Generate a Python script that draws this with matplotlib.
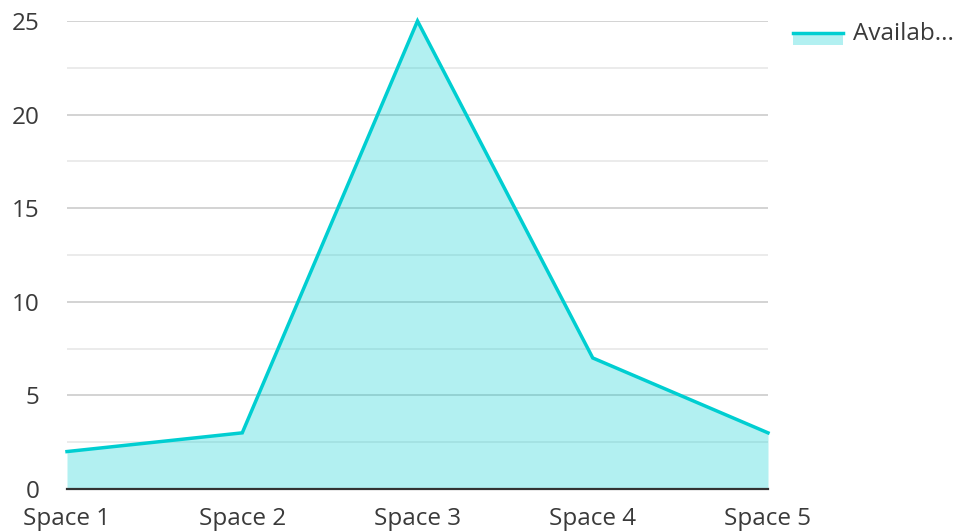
import matplotlib
matplotlib.use("Agg")
import matplotlib.pyplot as plt
from matplotlib.lines import Line2D
from matplotlib.patches import Rectangle
from matplotlib.ticker import MultipleLocator

plt.rcParams['font.family'] = ['Open Sans', 'DejaVu Sans']

categories = ["Space 1", "Space 2", "Space 3", "Space 4", "Space 5"]
available = [2, 3, 25, 7, 3]
series_name = "Availab..."
y_ticks = [0, 5, 10, 15, 20, 25]

line_color = "#00CED1"
text_color = "#3a3a3a"

fig = plt.figure(figsize=(9.58, 5.31), dpi=100)
ax = fig.add_axes([67 / 958, 42 / 531, 701 / 958, 468 / 531])

x = list(range(len(categories)))
ax.fill_between(x, available, 0, color=line_color, alpha=0.3, linewidth=0, zorder=2)
ax.plot(x, available, color=line_color, linewidth=2.5, zorder=3, clip_on=False,
        solid_joinstyle="miter")

ax.set_xlim(x[0], x[-1])
ax.set_ylim(0, 25)
ax.set_yticks(y_ticks)
ax.set_yticklabels([str(v) for v in y_ticks])
ax.yaxis.set_minor_locator(MultipleLocator(2.5))
ax.set_xticks(x)
ax.set_xticklabels(categories)

ax.grid(which="major", axis="y", color="#c8c8c8", linewidth=1.1, zorder=1)
ax.grid(which="minor", axis="y", color="#e6e6e6", linewidth=1.1, zorder=1)
ax.grid(False, axis="x")
ax.set_axisbelow(True)

for side in ["top", "right", "left"]:
    ax.spines[side].set_visible(False)
ax.spines["bottom"].set_color("#333333")
ax.spines["bottom"].set_linewidth(1.6)
ax.spines["bottom"].set_zorder(4)

ax.tick_params(axis="both", which="both", length=0, labelsize=17.5, labelcolor=text_color)
ax.tick_params(axis="y", pad=20)
ax.tick_params(axis="x", pad=13)

# Legend: filled swatch with a line along its top edge
fig.patches.append(Rectangle((793 / 958, 1 - 45 / 531), 50 / 958, 13 / 531,
                             transform=fig.transFigure, facecolor=line_color,
                             alpha=0.3, linewidth=0))
fig.lines.append(Line2D([793 / 958, 843 / 958], [1 - 33 / 531, 1 - 33 / 531],
                        transform=fig.transFigure, color=line_color, linewidth=2.5))
fig.text(853 / 958, 1 - 34 / 531, series_name, fontsize=17.5, color=text_color,
         va="center", ha="left")

fig.savefig("out.png", dpi=100)
